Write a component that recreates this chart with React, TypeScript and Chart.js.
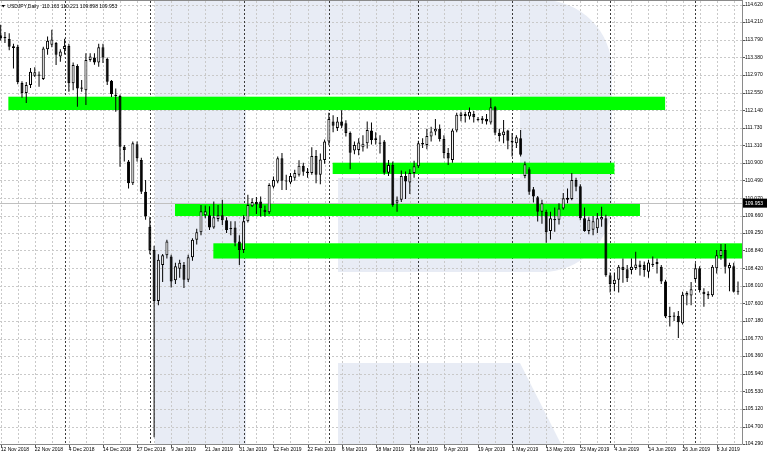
import React, { useEffect, useRef } from "react";
import { Chart, registerables } from "chart.js";

Chart.register(...registerables);

const symbol = "USDJPY";
const period = "Daily";
const headerValues = ["110.163", "110.221", "109.898", "109.953"];
const currentPrice = 109.953;

const dates = [
  "2018-11-12","2018-11-13","2018-11-14","2018-11-15","2018-11-16","2018-11-19","2018-11-20","2018-11-21","2018-11-22","2018-11-23","2018-11-26","2018-11-27","2018-11-28","2018-11-29","2018-11-30",
  "2018-12-03","2018-12-04","2018-12-05","2018-12-06","2018-12-07","2018-12-10","2018-12-11","2018-12-12","2018-12-13","2018-12-14","2018-12-17","2018-12-18","2018-12-19","2018-12-20","2018-12-21","2018-12-24","2018-12-26","2018-12-27","2018-12-28","2018-12-31",
  "2019-01-02","2019-01-03","2019-01-04","2019-01-07","2019-01-08","2019-01-09","2019-01-10","2019-01-11","2019-01-14","2019-01-15","2019-01-16","2019-01-17","2019-01-18","2019-01-21","2019-01-22","2019-01-23","2019-01-24","2019-01-25","2019-01-28","2019-01-29","2019-01-30","2019-01-31",
  "2019-02-01","2019-02-04","2019-02-05","2019-02-06","2019-02-07","2019-02-08","2019-02-11","2019-02-12","2019-02-13","2019-02-14","2019-02-15","2019-02-18","2019-02-19","2019-02-20","2019-02-21","2019-02-22","2019-02-25","2019-02-26","2019-02-27","2019-02-28",
  "2019-03-01","2019-03-04","2019-03-05","2019-03-06","2019-03-07","2019-03-08","2019-03-11","2019-03-12","2019-03-13","2019-03-14","2019-03-15","2019-03-18","2019-03-19","2019-03-20","2019-03-21","2019-03-22","2019-03-25","2019-03-26","2019-03-27","2019-03-28","2019-03-29",
  "2019-04-01","2019-04-02","2019-04-03","2019-04-04","2019-04-05","2019-04-08","2019-04-09","2019-04-10","2019-04-11","2019-04-12","2019-04-15","2019-04-16","2019-04-17","2019-04-18","2019-04-19","2019-04-22","2019-04-23","2019-04-24","2019-04-25","2019-04-26","2019-04-29","2019-04-30",
  "2019-05-01","2019-05-02","2019-05-03","2019-05-06","2019-05-07","2019-05-08","2019-05-09","2019-05-10","2019-05-13","2019-05-14","2019-05-15","2019-05-16","2019-05-17","2019-05-20","2019-05-21","2019-05-22","2019-05-23","2019-05-24","2019-05-27","2019-05-28","2019-05-29","2019-05-30","2019-05-31",
  "2019-06-03","2019-06-04","2019-06-05","2019-06-06","2019-06-07","2019-06-10","2019-06-11","2019-06-12","2019-06-13","2019-06-14","2019-06-17","2019-06-18","2019-06-19","2019-06-20","2019-06-21","2019-06-24","2019-06-25","2019-06-26","2019-06-27","2019-06-28",
  "2019-07-01","2019-07-02","2019-07-03","2019-07-04","2019-07-05","2019-07-08","2019-07-09","2019-07-10","2019-07-11","2019-07-12","2019-07-15"
];

const opens = [
  113.90,113.83,113.81,113.60,113.63,112.78,112.54,112.73,112.95,112.98,112.87,113.57,113.68,113.72,113.40,
  113.58,113.65,112.77,113.18,112.67,112.61,113.32,113.38,113.26,113.62,113.34,112.83,112.50,112.47,111.28,110.93,110.42,111.34,110.97,110.22,
  109.40,108.85,107.65,108.50,108.73,108.70,108.14,108.41,108.50,108.15,108.68,109.09,109.27,109.67,109.67,109.38,109.58,109.67,109.55,109.34,109.38,109.05,
  108.85,109.53,109.88,109.98,109.99,109.80,109.74,110.34,110.46,111.01,110.48,110.44,110.55,110.62,110.83,110.66,110.66,111.06,110.62,110.97,
  111.40,111.87,111.72,111.87,111.83,111.60,111.19,111.20,111.27,111.36,111.66,111.48,111.38,111.40,110.67,110.85,109.96,110.03,110.59,110.44,110.66,
  110.82,111.37,111.32,111.52,111.64,111.70,111.46,111.13,110.97,111.66,112.00,112.00,111.99,112.05,111.93,111.95,111.93,111.85,112.21,111.61,111.55,111.66,
  111.42,111.36,111.48,110.59,110.75,110.28,110.09,109.75,109.75,109.30,109.58,109.56,109.83,110.03,110.05,110.50,110.35,109.60,109.30,109.33,109.36,109.57,109.60,
  108.26,108.05,108.15,108.46,108.40,108.38,108.43,108.51,108.50,108.34,108.50,108.52,108.46,108.11,107.30,107.28,107.30,107.13,107.78,107.78,
  108.17,108.42,107.87,107.82,107.79,108.42,108.71,108.85,108.42,108.47,107.89
];

const highs = [
  114.15,113.98,113.95,113.70,113.68,112.82,112.80,113.13,113.15,113.05,113.63,113.87,114.03,113.74,113.57,
  113.82,113.70,113.26,113.22,112.85,113.48,113.48,113.48,113.70,113.70,113.38,112.85,112.65,112.50,111.32,110.97,111.40,111.40,111.02,110.50,
  109.62,108.95,108.75,108.76,109.09,108.74,108.55,108.62,108.57,108.74,109.13,109.35,109.91,109.90,109.88,109.99,109.91,110.03,109.62,109.53,109.53,109.20,
  109.67,110.15,110.07,110.10,110.11,109.90,110.42,110.58,111.05,111.13,110.62,110.66,110.74,110.96,110.90,110.78,111.27,111.20,111.12,111.45,
  112.08,112.02,111.98,112.14,111.90,111.64,111.40,111.48,111.55,111.87,111.85,111.62,111.55,111.44,110.97,110.93,110.11,110.72,110.70,110.75,110.95,
  111.42,111.48,111.70,111.75,111.93,111.80,111.55,111.25,111.70,112.08,112.10,112.10,112.20,112.12,111.98,112.00,112.05,112.42,112.24,111.70,111.91,111.68,
  111.60,111.55,111.67,110.93,110.80,110.33,110.12,110.03,109.80,109.75,109.85,109.95,110.19,110.30,110.66,110.55,110.40,109.85,109.62,109.65,109.72,109.87,109.68,
  108.32,108.32,108.50,108.65,108.50,108.65,108.81,108.60,108.58,108.62,108.70,108.65,108.50,108.15,107.52,107.39,107.42,107.87,107.88,108.10,
  108.54,108.47,107.95,107.88,108.50,108.85,108.99,108.99,108.55,108.55,108.11
];

const lows = [
  113.78,113.72,113.55,113.12,112.75,112.43,112.31,112.66,112.92,112.69,112.85,113.44,113.62,113.20,113.28,
  113.45,112.57,112.61,112.22,112.57,112.26,113.28,113.21,113.16,113.25,112.73,112.45,112.10,110.81,110.93,110.30,110.38,110.93,110.17,109.56,
  108.75,104.45,107.55,108.10,108.65,107.97,108.05,108.20,107.96,108.10,108.60,108.98,109.20,109.60,109.32,109.35,109.52,109.44,109.25,109.20,108.94,108.50,
  108.78,109.50,109.86,109.70,109.64,109.64,109.70,110.30,110.42,110.26,110.26,110.40,110.48,110.58,110.60,110.55,110.62,110.42,110.40,110.88,
  111.32,111.62,111.65,111.72,111.52,110.75,111.10,111.08,111.17,111.24,111.33,111.33,111.12,110.62,110.59,109.87,109.75,109.98,110.05,110.17,110.55,
  110.78,111.25,111.22,111.40,111.55,111.40,111.01,110.85,110.90,111.62,111.88,111.85,111.92,111.85,111.88,111.82,111.80,111.80,111.55,111.40,111.36,111.22,
  111.05,111.25,111.05,110.54,110.15,109.97,109.52,109.47,109.02,109.10,109.28,109.45,109.80,109.95,110.02,110.23,109.55,109.28,109.22,109.20,109.25,109.40,108.22,
  107.85,107.88,107.85,108.08,108.10,108.28,108.38,108.25,108.22,108.20,108.45,108.30,108.05,107.25,107.05,107.18,106.78,107.10,107.55,107.55,
  108.11,107.85,107.52,107.70,107.75,108.30,108.62,108.30,107.88,107.85,107.80
];

const closes = [
  113.83,113.86,113.63,113.64,112.80,112.54,112.73,113.04,113.03,112.95,113.59,113.77,113.80,113.44,113.52,
  113.65,112.77,113.20,112.65,112.64,113.32,113.40,113.26,113.62,113.38,112.81,112.52,112.47,111.28,111.20,110.42,111.36,111.01,110.22,109.64,
  108.85,107.65,108.62,108.73,109.05,108.11,108.47,108.55,108.15,108.68,109.09,109.27,109.76,109.76,109.38,109.62,109.67,109.55,109.32,109.37,109.02,108.85,
  109.53,109.91,109.98,109.92,109.84,109.74,110.38,110.50,111.01,110.48,110.46,110.59,110.66,110.83,110.69,110.70,111.06,110.62,110.98,111.40,
  111.93,111.77,111.87,111.77,111.60,111.14,111.32,111.38,111.35,111.67,111.44,111.43,111.35,110.67,110.85,109.91,110.03,110.59,110.46,110.66,110.82,
  111.36,111.33,111.53,111.64,111.70,111.46,111.13,111.00,111.66,112.03,112.06,112.05,112.10,111.97,111.91,111.90,111.87,112.21,111.61,111.53,111.64,111.42,
  111.38,111.50,111.09,110.87,110.22,110.11,109.75,109.95,109.27,109.60,109.55,109.83,110.07,110.08,110.50,110.34,109.60,109.30,109.56,109.53,109.60,109.63,108.26,
  108.05,108.15,108.46,108.38,108.19,108.46,108.51,108.45,108.38,108.56,108.53,108.57,108.11,107.29,107.27,107.31,107.15,107.80,107.84,107.93,
  108.42,107.91,107.81,107.78,108.46,108.73,108.85,108.46,108.50,107.87,107.87
];

const yTickLabels = [
  "114.620","114.210","113.790","113.380","112.970","112.550","112.140","111.730","111.310",
  "110.900","110.490","110.070","109.660","109.250","108.840","108.420","108.010","107.600",
  "107.180","106.770","106.360","105.940","105.530","105.120","104.700","104.290"
];

const xTickDates = [
  "2018-11-12","2018-11-22","2018-12-04","2018-12-14","2018-12-27","2019-01-09","2019-01-21","2019-01-31",
  "2019-02-12","2019-02-22","2019-03-06","2019-03-18","2019-03-28","2019-04-09","2019-04-19","2019-05-01",
  "2019-05-13","2019-05-23","2019-06-04","2019-06-14","2019-06-26","2019-07-08"
];
const xTickLabels = [
  "12 Nov 2018","22 Nov 2018","4 Dec 2018","14 Dec 2018","27 Dec 2018","9 Jan 2019","21 Jan 2019","31 Jan 2019",
  "12 Feb 2019","22 Feb 2019","6 Mar 2019","18 Mar 2019","28 Mar 2019","9 Apr 2019","19 Apr 2019","1 May 2019",
  "13 May 2019","23 May 2019","4 Jun 2019","14 Jun 2019","26 Jun 2019","8 Jul 2019"
];

// Support / resistance zones (bar index range and price range)
const zoneStart = [1.8, 77.9, 40.9, 49.9];
const zoneEnd = [155.9, 144.0, 150.0, 180.0];
const zoneHigh = [112.456, 110.904, 109.933, 109.009];
const zoneLow = [112.143, 110.638, 109.651, 108.651];

const Y_MIN = 104.29;
const Y_MAX = 114.706;
const X_MIN = -0.16;
const X_MAX = 173.94;

const FONT = '"Liberation Sans", Arial, sans-serif';

export default function App() {
  const canvasRef = useRef<HTMLCanvasElement | null>(null);

  useEffect(() => {
    const canvas = canvasRef.current;
    if (!canvas) return;

    const yTickValues = yTickLabels.map(Number);
    const xTickIdx = xTickDates.map((d) => dates.indexOf(d));

    const bodies = dates.map((_, i) => ({
      x: i,
      y: [Math.min(opens[i], closes[i]), Math.max(opens[i], closes[i])],
    }));
    const wicks = dates.map((_, i) => ({ x: i, y: [lows[i], highs[i]] }));
    const bodyColors = dates.map((_, i) => (closes[i] >= opens[i] ? "#ffffff" : "#000000"));

    const monthStarts: number[] = [];
    for (let i = 1; i < dates.length; i++) {
      if (dates[i].slice(0, 7) !== dates[i - 1].slice(0, 7)) monthStarts.push(i);
    }

    const mt4Plugin = {
      id: "mt4look",
      beforeDraw(chart: any) {
        const { ctx, chartArea: a } = chart;
        ctx.save();
        ctx.fillStyle = "#ffffff";
        ctx.fillRect(0, 0, chart.width, chart.height);
        ctx.beginPath();
        ctx.rect(a.left, 0, a.right - a.left, a.bottom);
        ctx.clip();
        // watermark "R"
        ctx.fillStyle = "#e8ecf5";
        ctx.beginPath();
        ctx.moveTo(155, 0);
        ctx.lineTo(542, 0);
        ctx.arcTo(612, 0, 612, 70, 70);
        ctx.lineTo(612, 200);
        ctx.arcTo(612, 272, 540, 272, 70);
        ctx.lineTo(338, 272);
        ctx.lineTo(338, 178);
        ctx.lineTo(520, 178);
        ctx.lineTo(520, 95);
        ctx.lineTo(246, 95);
        ctx.lineTo(246, a.bottom);
        ctx.lineTo(155, a.bottom);
        ctx.closePath();
        ctx.fill();
        ctx.beginPath();
        ctx.moveTo(338, 363);
        ctx.lineTo(520, 363);
        ctx.lineTo(561, a.bottom);
        ctx.lineTo(338, a.bottom);
        ctx.closePath();
        ctx.fill();
        ctx.restore();
      },
      beforeDatasetsDraw(chart: any) {
        const { ctx, chartArea: a, scales } = chart;
        const xs = scales.x;
        const ys = scales.y;
        ctx.save();
        ctx.beginPath();
        ctx.rect(a.left, a.top, a.right - a.left, a.bottom - a.top);
        ctx.clip();
        ctx.lineWidth = 1;
        // grid
        ctx.strokeStyle = "#c9c9c9";
        ctx.setLineDash([2, 2]);
        yTickValues.forEach((v) => {
          const py = Math.round(ys.getPixelForValue(v)) + 0.5;
          ctx.beginPath();
          ctx.moveTo(a.left, py);
          ctx.lineTo(a.right, py);
          ctx.stroke();
        });
        for (let i = 0; i < dates.length; i += 4) {
          const px = Math.round(xs.getPixelForValue(i)) + 0.5;
          ctx.beginPath();
          ctx.moveTo(px, a.top);
          ctx.lineTo(px, a.bottom);
          ctx.stroke();
        }
        // period separators
        ctx.strokeStyle = "#3c3c3c";
        monthStarts.forEach((i) => {
          const px = Math.round(xs.getPixelForValue(i)) + 0.5;
          ctx.beginPath();
          ctx.moveTo(px, a.top);
          ctx.lineTo(px, a.bottom);
          ctx.stroke();
        });
        ctx.setLineDash([]);
        // zones
        ctx.fillStyle = "#00ff00";
        for (let k = 0; k < zoneStart.length; k++) {
          const x1 = xs.getPixelForValue(zoneStart[k]);
          const x2 = xs.getPixelForValue(zoneEnd[k]);
          const y1 = ys.getPixelForValue(zoneHigh[k]);
          const y2 = ys.getPixelForValue(zoneLow[k]);
          ctx.fillRect(x1, y1, x2 - x1, y2 - y1);
        }
        // current price line
        const pyc = Math.round(ys.getPixelForValue(currentPrice)) + 0.5;
        ctx.strokeStyle = "#c0c0c0";
        ctx.beginPath();
        ctx.moveTo(a.left, pyc);
        ctx.lineTo(a.right, pyc);
        ctx.stroke();
        ctx.restore();
      },
      afterDraw(chart: any) {
        const { ctx, chartArea: a, scales } = chart;
        const xs = scales.x;
        const ys = scales.y;
        ctx.save();
        ctx.lineWidth = 1;
        ctx.strokeStyle = "#8a8a8a";
        // frame
        ctx.beginPath();
        ctx.moveTo(0, 0.5);
        ctx.lineTo(a.right + 0.5, 0.5);
        ctx.moveTo(a.right + 0.5, 0);
        ctx.lineTo(a.right + 0.5, a.bottom + 0.5);
        ctx.moveTo(0, a.bottom + 0.5);
        ctx.lineTo(a.right + 0.5, a.bottom + 0.5);
        ctx.stroke();
        // tick marks
        ctx.strokeStyle = "#555555";
        yTickValues.forEach((v) => {
          const py = Math.round(ys.getPixelForValue(v)) + 0.5;
          ctx.beginPath();
          ctx.moveTo(a.right + 1, py);
          ctx.lineTo(a.right + 3, py);
          ctx.stroke();
        });
        xTickIdx.forEach((i) => {
          const px = Math.round(xs.getPixelForValue(i)) + 0.5;
          ctx.beginPath();
          ctx.moveTo(px, a.bottom + 1);
          ctx.lineTo(px, a.bottom + 4);
          ctx.stroke();
        });
        // current price label
        const pyc = ys.getPixelForValue(currentPrice);
        ctx.fillStyle = "#000000";
        ctx.fillRect(a.right + 1, pyc - 4.5, 24, 9);
        ctx.fillStyle = "#ffffff";
        ctx.font = `5px ${FONT}`;
        ctx.textBaseline = "middle";
        ctx.textAlign = "left";
        ctx.fillText(currentPrice.toFixed(3), a.right + 3, pyc + 0.5);
        // header
        ctx.fillStyle = "#000000";
        ctx.beginPath();
        ctx.moveTo(1.5, 5);
        ctx.lineTo(5, 5);
        ctx.lineTo(3.25, 7.5);
        ctx.closePath();
        ctx.fill();
        ctx.fillText(`${symbol},${period}  ${headerValues.join(" ")}`, 7.3, 6.5);
        ctx.restore();
      },
    };

    const chart = new Chart(canvas, {
      type: "bar",
      data: {
        datasets: [
          {
            label: "body",
            data: bodies as any,
            backgroundColor: bodyColors,
            borderColor: "#000000",
            borderWidth: 1,
            borderSkipped: false,
            barThickness: 3,
            minBarLength: 1,
            inflateAmount: 0,
            grouped: false,
            order: 0,
          } as any,
          {
            label: "wick",
            data: wicks as any,
            backgroundColor: "#000000",
            borderWidth: 0,
            barThickness: 1,
            minBarLength: 1,
            inflateAmount: 0,
            grouped: false,
            order: 1,
          } as any,
        ],
      },
      options: {
        animation: false,
        responsive: false,
        maintainAspectRatio: false,
        events: [],
        layout: { padding: { left: 0, top: 1, right: 0, bottom: 0 } },
        plugins: { legend: { display: false }, tooltip: { enabled: false } },
        scales: {
          x: {
            type: "linear",
            min: X_MIN,
            max: X_MAX,
            offset: false,
            grid: { display: false, drawTicks: false },
            border: { display: false },
            afterBuildTicks: (s: any) => {
              s.ticks = xTickIdx.map((v) => ({ value: v }));
            },
            afterFit: (s: any) => {
              s.height = 12;
              s.paddingLeft = 0;
              s.paddingRight = 0;
              s.paddingTop = 0;
              s.paddingBottom = 0;
            },
            ticks: {
              autoSkip: false,
              maxRotation: 0,
              minRotation: 0,
              align: "start",
              padding: 3,
              color: "#000000",
              font: { family: FONT, size: 5 },
              callback: (v: any) => {
                const k = xTickIdx.indexOf(Number(v));
                return k >= 0 ? xTickLabels[k] : "";
              },
            },
          } as any,
          y: {
            position: "right",
            min: Y_MIN,
            max: Y_MAX,
            grid: { display: false, drawTicks: false },
            border: { display: false },
            afterBuildTicks: (s: any) => {
              s.ticks = yTickValues.map((v) => ({ value: v }));
            },
            afterFit: (s: any) => {
              s.width = 26;
              s.paddingLeft = 0;
              s.paddingRight = 0;
              s.paddingTop = 0;
              s.paddingBottom = 0;
            },
            ticks: {
              padding: 3,
              color: "#000000",
              font: { family: FONT, size: 5 },
              callback: (v: any) => {
                const k = yTickValues.indexOf(Number(v));
                return k >= 0 ? yTickLabels[k] : "";
              },
            },
          } as any,
        },
      },
      plugins: [mt4Plugin as any],
    });

    return () => chart.destroy();
  }, []);

  return (
    <div style={{ position: "absolute", left: 0, top: 0, width: 768, height: 456, background: "#ffffff" }}>
      <canvas ref={canvasRef} width={768} height={456} style={{ display: "block", width: 768, height: 456 }} />
    </div>
  );
}
